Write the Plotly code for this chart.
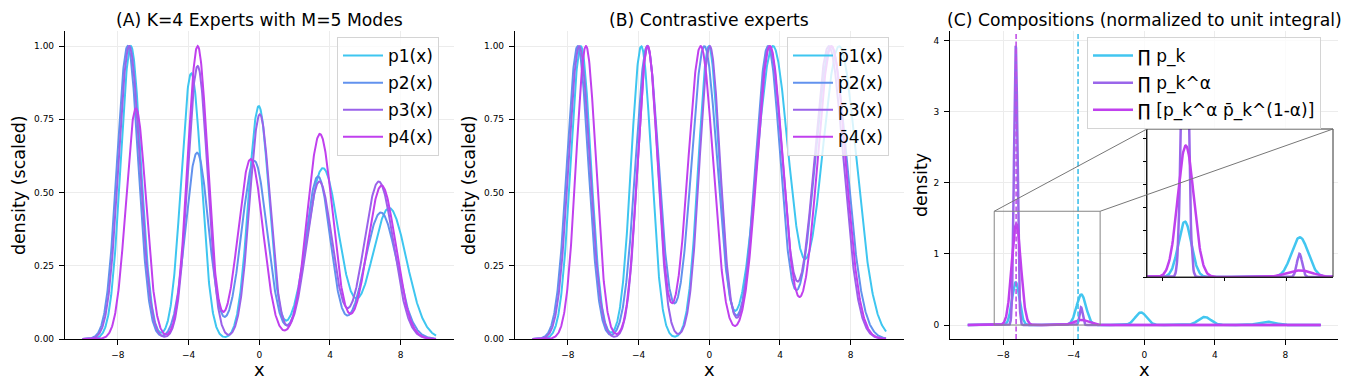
import numpy as np
import plotly.graph_objects as go

FONT = "DejaVu Sans"
W, H = 1356, 391

# ---------------- data ----------------
X_MIN, X_MAX = -10.0, 10.0

EXPERT_NAMES = ["p1(x)", "p2(x)", "p3(x)", "p4(x)"]
CONTRAST_NAMES = ["p̄1(x)", "p̄2(x)", "p̄3(x)", "p̄4(x)"]
EXPERT_COLORS = ["#3ec6f0", "#6292ee", "#9a62ea", "#c040ee"]

# mode centres, peak heights (panel A) and widths of each expert's 5 modes
P1_MEANS = [-7.27, -3.85, -0.03, 3.60, 7.35]
P2_MEANS = [-7.45, -3.52, -0.28, 3.32, 6.88]
P3_MEANS = [-7.36, -3.49, 0.03, 3.40, 6.76]
P4_MEANS = [-6.98, -3.49, -0.49, 3.43, 6.92]

P1_HEIGHTS = [1.0, 0.907, 0.795, 0.583, 0.447]
P2_HEIGHTS = [1.0, 0.636, 0.608, 0.555, 0.432]
P3_HEIGHTS = [1.0, 0.932, 0.767, 0.5375, 0.5375]
P4_HEIGHTS = [0.7875, 1.0, 0.614, 0.70, 0.524]

P1_WIDTHS = [0.57, 0.57, 0.58, 0.90, 0.98]
P2_WIDTHS = [0.60, 0.65, 0.72, 0.70, 0.90]
P3_WIDTHS = [0.60, 0.56, 0.58, 0.73, 0.83]
P4_WIDTHS = [0.56, 0.57, 0.70, 0.72, 0.80]

# contrastive experts: every mode reaches the same height
PBAR_HEIGHTS = [1.0, 1.0, 1.0, 1.0, 1.0]

# panel C compositions: peak positions, heights, widths
COMP_NAMES = ["∏ p_k", "∏ p_k^α", "∏ [p_k^α p̄_k^(1-α)]"]
COMP_COLORS = ["#42c6f0", "#9a66ea", "#c040ee"]
PROD_X = [-7.28, -3.57, -0.19, 3.42, 6.94]
PROD_H = [0.60, 0.43, 0.178, 0.113, 0.047]
PROD_W = [0.21, 0.27, 0.32, 0.36, 0.45]
POW_X = [-7.28, -3.58]
POW_H = [3.93, 0.25]
POW_W = [0.10, 0.085]
CON_X = [-7.25, -3.57]
CON_H = [1.42, 0.072]
CON_W = [0.26, 0.40]

VLINE_X = [-3.75, -7.26]
VLINE_COLORS = ["#42c0ea", "#c050e6"]

INSET_XLIM = [-8.5, -2.5]
INSET_YLIM = [0.0, 1.6]

TITLES = ["(A) K=4 Experts with M=5 Modes", "(B) Contrastive experts",
          "(C) Compositions (normalized to unit integral)"]

# ---------------- helpers ----------------
xs = np.linspace(X_MIN, X_MAX, 1201)


def bumps(x, centres, heights, widths):
    y = np.zeros_like(x)
    for c, h, w in zip(centres, heights, widths):
        y += h * np.exp(-(x - c) ** 2 / (2 * w ** 2))
    return y


def scaled(y):
    return y / y.max()


experts = [
    (P1_MEANS, P1_HEIGHTS, P1_WIDTHS),
    (P2_MEANS, P2_HEIGHTS, P2_WIDTHS),
    (P3_MEANS, P3_HEIGHTS, P3_WIDTHS),
    (P4_MEANS, P4_HEIGHTS, P4_WIDTHS),
]

fig = go.Figure()

for i, (m, h, w) in enumerate(experts):
    fig.add_trace(go.Scatter(x=xs, y=scaled(bumps(xs, m, h, w)), mode="lines",
                             name=EXPERT_NAMES[i], line=dict(color=EXPERT_COLORS[i], width=2),
                             legendgroup=f"a{i}", xaxis="x", yaxis="y", legend="legend"))
for i, (m, h, w) in enumerate(experts):
    fig.add_trace(go.Scatter(x=xs, y=scaled(bumps(xs, m, PBAR_HEIGHTS, w)), mode="lines",
                             name=CONTRAST_NAMES[i], line=dict(color=EXPERT_COLORS[i], width=2),
                             legendgroup=f"b{i}", xaxis="x2", yaxis="y2", legend="legend2"))

comps = [(PROD_X, PROD_H, PROD_W), (POW_X, POW_H, POW_W), (CON_X, CON_H, CON_W)]
for i, (c, h, w) in enumerate(comps):
    yv = bumps(xs, c, h, w)
    fig.add_trace(go.Scatter(x=xs, y=yv, mode="lines", name=COMP_NAMES[i],
                             line=dict(color=COMP_COLORS[i], width=2.5),
                             legendgroup=f"c{i}", xaxis="x3", yaxis="y3", legend="legend3"))

# inset: white panel behind the zoomed curves
fig.add_trace(go.Scatter(x=[INSET_XLIM[0], INSET_XLIM[1], INSET_XLIM[1], INSET_XLIM[0], INSET_XLIM[0]],
                         y=[INSET_YLIM[0], INSET_YLIM[0], INSET_YLIM[1], INSET_YLIM[1], INSET_YLIM[0]],
                         mode="lines", fill="toself", fillcolor="white", line=dict(width=0),
                         showlegend=False, hoverinfo="skip", xaxis="x4", yaxis="y4"))
for i, (c, h, w) in enumerate(comps):
    yv = bumps(xs, c, h, w)
    fig.add_trace(go.Scatter(x=xs, y=yv, mode="lines", showlegend=False,
                             line=dict(color=COMP_COLORS[i], width=2.5),
                             xaxis="x4", yaxis="y4"))

# ---------------- layout ----------------
XT = [-8, -4, 0, 4, 8]
XTT = ["−8", "−4", "0", "4", "8"]


def xax(dom, anchor):
    return dict(domain=dom, range=[-11, 11], tickvals=XT, ticktext=XTT, anchor=anchor,
                showline=True, linecolor="black", linewidth=1, ticks="outside", ticklen=5,
                tickwidth=1, tickcolor="black", showgrid=True, gridcolor="#ececec",
                zeroline=False, tickfont=dict(size=9, color="black", family=FONT),
                ticklabelstandoff=2, automargin=False)


def yax(dom, rng, tv, tt, anchor):
    return dict(domain=dom, range=rng, tickvals=tv, ticktext=tt, anchor=anchor,
                showline=True, linecolor="black", linewidth=1, ticks="outside", ticklen=5,
                tickwidth=1, tickcolor="black", showgrid=True, gridcolor="#ececec",
                zeroline=False, tickfont=dict(size=9, color="black", family=FONT),
                ticklabelstandoff=3, automargin=False)


ydom = [1 - 339 / H, 1 - 31.4 / H]
domA = [64.9 / W, 453.7 / W]
domB = [514.9 / W, 903.7 / W]
domC = [950.1 / W, 1338.4 / W]
domIx = [1147 / W, 1333 / W]
domIy = [1 - 277 / H, 1 - 129 / H]
yC = [-0.197, 4.13]

YT = [0, 0.25, 0.5, 0.75, 1.0]
YTT = ["0.00", "0.25", "0.50", "0.75", "1.00"]


def legend_at(xpx):
    return dict(x=xpx / W, y=1 - 37 / H, xanchor="left", yanchor="top",
                bgcolor="rgba(255,255,255,0.8)", bordercolor="#d4d4d4", borderwidth=1,
                tracegroupgap=2, itemwidth=40,
                font=dict(size=17, family=FONT, color="black"))


fig.update_layout(
    template="none",
    width=W, height=H, margin=dict(l=0, r=0, t=0, b=0, pad=0), autosize=False,
    paper_bgcolor="white", plot_bgcolor="white",
    font=dict(family=FONT, color="black"),
    xaxis=xax(domA, "y"), yaxis=yax(ydom, [0, 1.05], YT, YTT, "x"),
    xaxis2=xax(domB, "y2"), yaxis2=yax(ydom, [0, 1.05], YT, YTT, "x2"),
    xaxis3=xax(domC, "y3"), yaxis3=yax(ydom, yC, [0, 1, 2, 3, 4], ["0", "1", "2", "3", "4"], "x3"),
    xaxis4=dict(domain=domIx, range=INSET_XLIM, anchor="y4", tickvals=[-8, -6, -4],
                showticklabels=False, ticks="outside", ticklen=3, tickcolor="black",
                showline=True, linecolor="black", linewidth=1, showgrid=False, zeroline=False,
                automargin=False),
    yaxis4=dict(domain=domIy, range=INSET_YLIM, anchor="x4",
                tickvals=[0, 0.25, 0.5, 0.75, 1.0, 1.25, 1.5],
                showticklabels=False, ticks="outside", ticklen=3, tickcolor="black",
                showline=True, linecolor="black", linewidth=1, showgrid=False, zeroline=False,
                automargin=False),
    legend=legend_at(337), legend2=legend_at(787), legend3=legend_at(1087),
)

ann = []
for dom, t in zip([domA, domB, domC], TITLES):
    ann.append(dict(x=(dom[0] + dom[1]) / 2, y=1 - 19.5 / H, xref="paper", yref="paper",
                    text=t, showarrow=False, xanchor="center", yanchor="middle",
                    font=dict(size=17.2, family=FONT, color="black")))
    ann.append(dict(x=(dom[0] + dom[1]) / 2, y=1 - 369 / H, xref="paper", yref="paper",
                    text="x", showarrow=False, xanchor="center", yanchor="middle",
                    font=dict(size=18, family=FONT, color="black")))
for xc, t in [(19, "density (scaled)"), (469, "density (scaled)"), (921, "density")]:
    ann.append(dict(x=xc / W, y=1 - 185 / H, xref="paper", yref="paper", text=t,
                    textangle=-90, showarrow=False, xanchor="center", yanchor="middle",
                    font=dict(size=17.5, family=FONT, color="black")))
fig.update_layout(annotations=ann)


def cx(v):
    return domC[0] + (v + 11) / 22 * (domC[1] - domC[0])


def cy(v):
    return ydom[0] + (v - yC[0]) / (yC[1] - yC[0]) * (ydom[1] - ydom[0])


shapes = []
for xv, col in zip(VLINE_X, VLINE_COLORS):
    shapes.append(dict(type="line", xref="x3", yref="y3 domain", x0=xv, x1=xv, y0=0, y1=1,
                       line=dict(color=col, width=1.6, dash="5px,2.5px"), layer="above"))
shapes.append(dict(type="rect", xref="x3", yref="y3", x0=INSET_XLIM[0], x1=INSET_XLIM[1],
                   y0=INSET_YLIM[0], y1=INSET_YLIM[1], line=dict(color="#858585", width=1),
                   layer="above"))
shapes.append(dict(type="rect", xref="paper", yref="paper", x0=domIx[0], x1=domIx[1],
                   y0=domIy[0], y1=domIy[1], line=dict(color="#333333", width=1), layer="above"))
shapes.append(dict(type="line", xref="paper", yref="paper",
                   x0=cx(INSET_XLIM[0]), y0=cy(INSET_YLIM[1]), x1=domIx[0], y1=domIy[1],
                   line=dict(color="#777777", width=1), layer="above"))
shapes.append(dict(type="line", xref="paper", yref="paper",
                   x0=cx(INSET_XLIM[1]), y0=cy(INSET_YLIM[1]), x1=domIx[1], y1=domIy[1],
                   line=dict(color="#777777", width=1), layer="above"))
fig.update_layout(shapes=shapes)

fig.write_html("out.html", config={"displayModeBar": False},
               post_script="document.body.style.margin='0px';")
